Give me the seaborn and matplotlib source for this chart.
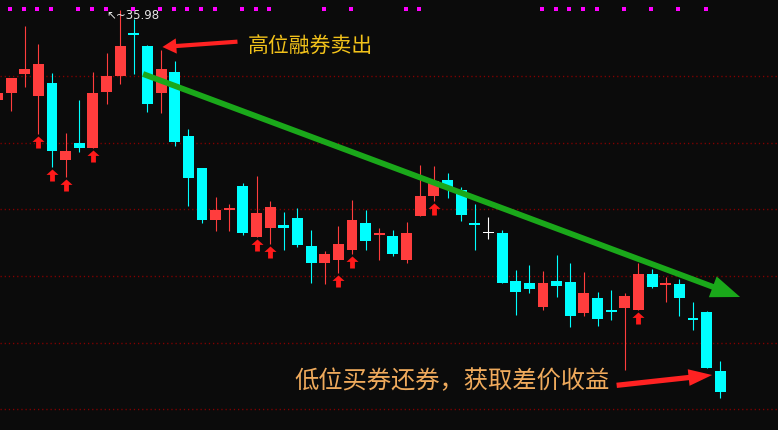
import matplotlib
matplotlib.use('Agg')
import matplotlib.pyplot as plt
from matplotlib.path import Path
import seaborn as sns
import pandas as pd
import numpy as np

# daily OHLC (price units, oldest first)
opens = [33.28, 33.49, 34.06, 33.40, 33.79, 31.48, 31.99, 31.84, 33.52, 34.00,
         35.29, 34.90, 33.49, 34.12, 32.20, 31.24, 29.68, 29.98, 30.70, 29.17,
         29.44, 29.53, 29.74, 28.90, 28.39, 28.48, 28.78, 29.59, 29.23, 29.20,
         28.48, 29.80, 30.40, 30.88, 30.58, 29.59, 29.29, 29.29, 27.85, 27.79,
         27.07, 27.85, 27.82, 26.89, 27.34, 26.98, 27.04, 26.98, 28.06, 27.73,
         27.76, 26.74, 26.92, 25.15]
highs = [33.49, 33.94, 35.50, 34.96, 34.09, 32.29, 33.28, 34.12, 34.69, 35.98,
         35.71, 34.93, 34.78, 34.45, 32.41, 31.24, 30.37, 30.16, 30.79, 31.00,
         30.25, 29.92, 30.04, 29.38, 28.75, 29.50, 30.28, 29.98, 29.44, 29.38,
         29.62, 31.33, 31.30, 31.09, 30.67, 30.16, 29.77, 29.38, 28.18, 28.33,
         28.15, 28.63, 28.39, 28.12, 27.52, 27.58, 27.49, 28.39, 28.21, 27.97,
         27.91, 27.22, 26.95, 25.45]
lows = [33.28, 32.95, 33.67, 32.26, 31.27, 30.97, 31.72, 31.84, 33.16, 33.76,
        34.06, 32.92, 32.89, 31.90, 30.10, 29.59, 29.35, 29.35, 29.23, 29.17,
        28.96, 28.78, 28.87, 27.79, 27.76, 28.09, 28.66, 28.78, 28.48, 28.60,
        28.39, 29.80, 30.25, 30.34, 29.65, 28.78, 29.11, 27.79, 26.83, 27.49,
        26.98, 27.37, 26.47, 26.80, 26.50, 26.68, 25.18, 26.98, 27.64, 27.22,
        26.80, 26.38, 25.24, 24.34]
closes = [33.49, 33.94, 34.21, 34.36, 31.75, 31.75, 31.84, 33.49, 34.00, 34.90,
          35.23, 33.16, 34.21, 32.02, 30.94, 29.68, 29.98, 30.04, 29.29, 29.89,
          30.07, 29.44, 28.93, 28.39, 28.66, 28.96, 29.68, 29.05, 29.29, 28.66,
          29.29, 30.40, 30.85, 30.64, 29.83, 29.53, 29.29, 27.79, 27.52, 27.61,
          27.79, 27.70, 26.80, 27.49, 26.71, 26.92, 27.40, 28.06, 27.67, 27.79,
          27.34, 26.68, 25.24, 24.52]

# bars with a red "buy" arrow under them, and bars with a magenta signal dot on top
arrow_bars = [3, 4, 5, 7, 19, 20, 25, 26, 32, 47]
dot_bars = [1, 2, 3, 4, 6, 7, 8, 10, 12, 13, 14, 15, 16, 18, 19, 20, 24, 26,
            30, 31, 40, 41, 42, 43, 44, 46, 48, 50, 52]

grid_levels = [34, 32, 30, 28, 26, 24]
peak_label = '↖~35.98'
top_note = '高位融券卖出'
bottom_note = '低位买券还券，获取差价收益'

UP = '#ff3d3d'
DOWN = '#00ffff'
BG = '#0b0b0b'

df = pd.DataFrame({'open': opens, 'high': highs, 'low': lows, 'close': closes})
df['idx'] = np.arange(len(df))
df['color'] = np.where(df.close > df.open, UP, np.where(df.close < df.open, DOWN, '#ffffff'))
df['body_lo'] = df[['open', 'close']].min(axis=1)
df['body_h'] = (df.close - df.open).abs().clip(lower=0.03)

sns.set_style('dark', {'axes.facecolor': BG, 'figure.facecolor': BG})

fig = plt.figure(figsize=(7.78, 4.31), dpi=100)
ax = fig.add_axes([0, 0, 1, 1])
ax.set_facecolor(BG)

for lv in grid_levels:
    ax.axhline(lv, color='#850000', lw=1.0, dashes=(0.9, 2.1), zorder=1)

# wicks and bodies
ax.vlines(df.idx, df.low, df.high, colors=df.color, lw=0.8, zorder=2)
ax.bar(df.idx, df.body_h, bottom=df.body_lo, width=0.8, color=df.color,
       linewidth=0, zorder=3)

# red up arrows below selected bars
arrow_marker = Path([(-1, 0.1), (0, 1), (1, 0.1), (0.4, 0.1), (0.4, -1),
                     (-0.4, -1), (-0.4, 0.1), (-1, 0.1)], closed=True)
arr = df.iloc[arrow_bars].copy()
arr['y'] = arr.low - 0.23
sns.scatterplot(data=arr, x='idx', y='y', marker=arrow_marker, s=75,
                color='#ff1a1a', linewidth=0, ax=ax, zorder=4, legend=False)

# magenta signal dots along the top
dots = df.iloc[dot_bars].copy()
dots['y'] = 36.02
sns.scatterplot(data=dots, x=dots.idx - 0.07, y='y', marker='s', s=6,
                color='#ff00ff', linewidth=0, ax=ax, zorder=4, legend=False)

peak = df.high.idxmax()
ax.text(peak - 1.0, df.high[peak] - 0.13, peak_label, color='#e6e6e6',
        fontsize=8.5, va='center', ha='left', family='DejaVu Sans')

# green trend arrow
ax.annotate('', xy=(54.45, 27.37), xytext=(10.68, 34.06),
            arrowprops=dict(arrowstyle='simple,head_length=2.1,head_width=1.6,tail_width=0.42',
                            mutation_scale=10, color='#1aa81a', lw=0,
                            shrinkA=0, shrinkB=0), zorder=5)

# red pointer arrows
ax.annotate('', xy=(12.1, 34.87), xytext=(17.6, 35.03),
            arrowprops=dict(arrowstyle='simple,head_length=1.0,head_width=1.1,tail_width=0.3',
                            mutation_scale=10, color='#ff2222', lw=0,
                            shrinkA=0, shrinkB=0), zorder=5)
ax.annotate('', xy=(52.4, 25.03), xytext=(45.4, 24.72),
            arrowprops=dict(arrowstyle='simple,head_length=1.7,head_width=1.2,tail_width=0.38',
                            mutation_scale=10, color='#ff2222', lw=0,
                            shrinkA=0, shrinkB=0), zorder=5)

cjk = ['Noto Sans CJK SC', 'DejaVu Sans']
ax.text(18.35, 34.93, top_note, color='#f2c21a', fontsize=15, va='center',
        ha='left', family=cjk)
ax.text(21.8, 24.86, bottom_note, color='#efaa5c', fontsize=17.5, va='center',
        ha='left', family=cjk)

ax.set_xlim(0.19, 57.23)
ax.set_ylim(23.38, 36.31)
ax.set_xticks([])
ax.set_yticks([])
ax.set_xlabel('')
ax.set_ylabel('')
for sp in ax.spines.values():
    sp.set_visible(False)

fig.savefig('out.png', dpi=100, facecolor=BG)
